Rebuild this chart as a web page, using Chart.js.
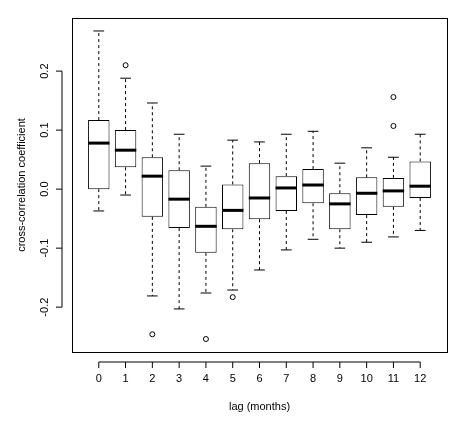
<!DOCTYPE html>
<html><head><meta charset="utf-8">
<script src="https://cdn.jsdelivr.net/npm/chart.js@4"></script>
<style>html,body{margin:0;background:#fff}#wrap{width:474px;height:425px}</style>
</head><body><div id="wrap"><canvas id="c"></canvas></div>
<script>
var lags = [0,1,2,3,4,5,6,7,8,9,10,11,12];
var whiskerLow = [-0.037,-0.010,-0.181,-0.203,-0.176,-0.171,-0.137,-0.103,-0.085,-0.100,-0.090,-0.081,-0.070];
var q1 =        [0.000,0.037,-0.047,-0.066,-0.108,-0.068,-0.051,-0.037,-0.024,-0.068,-0.044,-0.030,-0.015];
var median =    [0.078,0.066,0.022,-0.017,-0.063,-0.036,-0.015,0.002,0.007,-0.025,-0.007,-0.003,0.005];
var q3 =        [0.117,0.100,0.054,0.032,-0.030,0.008,0.044,0.022,0.034,-0.007,0.020,0.019,0.047];
var whiskerHigh = [0.268,0.188,0.146,0.093,0.039,0.083,0.080,0.093,0.098,0.044,0.070,0.054,0.093];
var outliers = [[],[0.210],[-0.246],[],[-0.254],[-0.183],[],[],[],[],[],[0.156,0.107],[]];
var yTicks = [-0.2,-0.1,0.0,0.1,0.2];
var yTickLabels = ['-0.2','-0.1','0.0','0.1','0.2'];

var boxPlugin = {
  id: 'boxes',
  afterDatasetsDraw: function(chart) {
    var ctx = chart.ctx, x = chart.scales.x, y = chart.scales.y, a = chart.chartArea;
    var half = (x.getPixelForValue(1) - x.getPixelForValue(0)) * 0.4;
    ctx.save();
    ctx.strokeStyle = '#000';
    lags.forEach(function(l, i) {
      var px = x.getPixelForValue(l);
      ctx.lineWidth = 1;
      ctx.setLineDash([3, 3]);
      ctx.beginPath();
      ctx.moveTo(px, y.getPixelForValue(q3[i])); ctx.lineTo(px, y.getPixelForValue(whiskerHigh[i]));
      ctx.moveTo(px, y.getPixelForValue(q1[i])); ctx.lineTo(px, y.getPixelForValue(whiskerLow[i]));
      ctx.stroke();
      ctx.setLineDash([]);
      ctx.beginPath();
      [whiskerHigh[i], whiskerLow[i]].forEach(function(v) {
        var py = y.getPixelForValue(v);
        ctx.moveTo(px - half / 2, py); ctx.lineTo(px + half / 2, py);
      });
      ctx.stroke();
      ctx.lineWidth = 3;
      ctx.beginPath();
      var pm = y.getPixelForValue(median[i]);
      ctx.moveTo(px - half, pm); ctx.lineTo(px + half, pm);
      ctx.stroke();
      ctx.lineWidth = 1;
      outliers[i].forEach(function(v) {
        ctx.beginPath();
        ctx.arc(px, y.getPixelForValue(v), 2.5, 0, Math.PI * 2);
        ctx.stroke();
      });
    });
    // frame
    ctx.strokeRect(a.left + 0.5, a.top + 0.5, a.right - a.left, a.bottom - a.top);
    // axes
    ctx.font = '11px "Liberation Sans", Arial, sans-serif';
    ctx.fillStyle = '#000';
    var ax = a.left - 10, ay = a.bottom + 10;
    ctx.beginPath();
    ctx.moveTo(ax, y.getPixelForValue(yTicks[0])); ctx.lineTo(ax, y.getPixelForValue(yTicks[yTicks.length - 1]));
    yTicks.forEach(function(t) { var py = y.getPixelForValue(t); ctx.moveTo(ax, py); ctx.lineTo(ax - 6, py); });
    ctx.moveTo(x.getPixelForValue(lags[0]), ay); ctx.lineTo(x.getPixelForValue(lags[lags.length - 1]), ay);
    lags.forEach(function(l) { var px = x.getPixelForValue(l); ctx.moveTo(px, ay); ctx.lineTo(px, ay + 6); });
    ctx.stroke();
    ctx.textAlign = 'center'; ctx.textBaseline = 'middle';
    lags.forEach(function(l) { ctx.fillText(String(l), x.getPixelForValue(l), ay + 17); });
    yTicks.forEach(function(t, i) {
      ctx.save();
      ctx.translate(ax - 17, y.getPixelForValue(t));
      ctx.rotate(-Math.PI / 2);
      ctx.fillText(yTickLabels[i], 0, 0);
      ctx.restore();
    });
    ctx.fillText('lag (months)', (a.left + a.right) / 2, 407);
    ctx.save();
    ctx.translate(22, (a.top + a.bottom) / 2);
    ctx.rotate(-Math.PI / 2);
    ctx.fillText('cross-correlation coefficient', 0, 0);
    ctx.restore();
    ctx.restore();
  }
};

new Chart(document.getElementById('c'), {
  type: 'bar',
  data: {
    datasets: [{
      data: lags.map(function(l, i) { return { x: l, y: [q1[i], q3[i]] }; }),
      backgroundColor: '#fff',
      borderColor: '#000',
      borderWidth: 1,
      borderSkipped: false,
      barPercentage: 0.8,
      categoryPercentage: 1
    }]
  },
  options: {
    responsive: true,
    maintainAspectRatio: false,
    animation: false,
    layout: { padding: { left: 72, top: 18, right: 27, bottom: 73 } },
    plugins: { legend: { display: false }, tooltip: { enabled: false } },
    scales: {
      x: { type: 'linear', min: -1, max: 13, display: false, offset: false },
      y: { min: -0.276, max: 0.29, display: false }
    }
  },
  plugins: [boxPlugin]
});
</script></body></html>
